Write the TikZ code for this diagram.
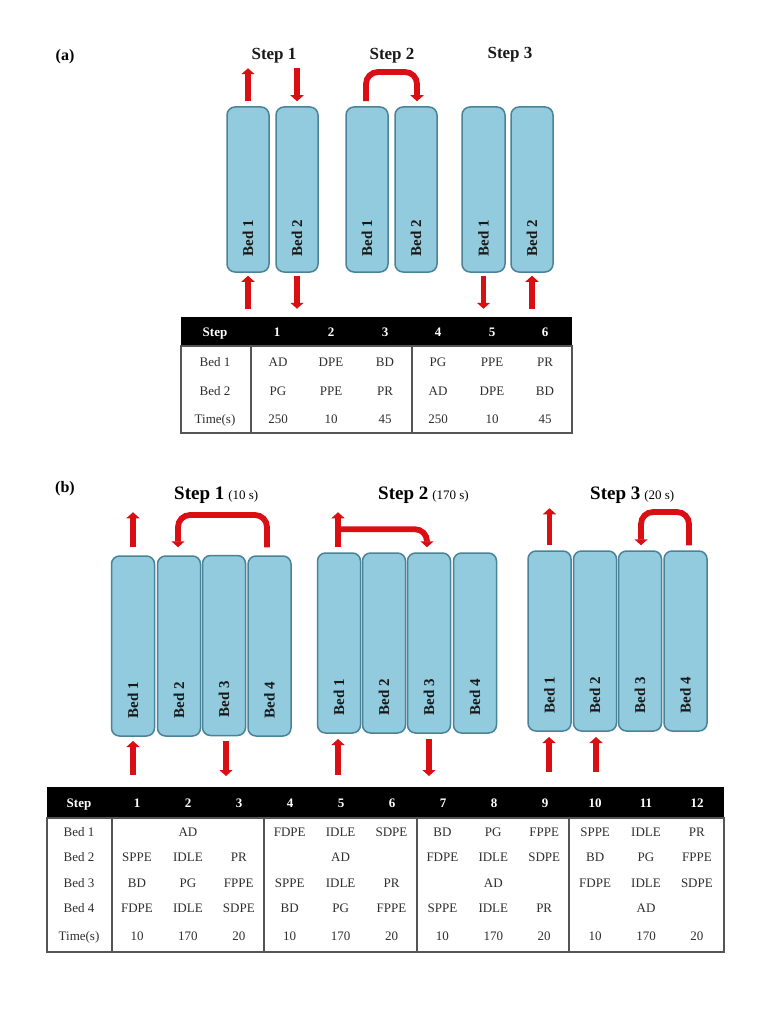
\documentclass[tikz,border=0pt]{standalone}
\usepackage{fontspec}
\setmainfont{Liberation Serif}
\usetikzlibrary{arrows.meta,calc}
\definecolor{bedfill}{HTML}{92CBDE}
\definecolor{bededge}{HTML}{4A8398}
\definecolor{flow}{HTML}{D90F14}
\definecolor{cell}{HTML}{2E2E2E}
\definecolor{rulegray}{HTML}{555555}
\tikzset{
  bedbox/.style={draw=bededge,line width=1.5pt,fill=bedfill,rounded corners=8pt,minimum width=42pt,inner sep=0pt},
  bedtext/.style={rotate=90,font=\bfseries\fontsize{15}{17}\selectfont,text=black!90,inner sep=0pt},
  flowline/.style={draw=flow,line width=5.8pt,-{Triangle[width=13pt,length=6pt]},rounded corners=12pt},
  head/.style={font=\bfseries\fontsize{17}{19}\selectfont,inner sep=0pt,text=black!90},
  panel/.style={font=\bfseries\fontsize{16}{18}\selectfont,inner sep=0pt},
  thead/.style={font=\bfseries\fontsize{13}{15}\selectfont,text=white,inner sep=0pt,text height=8.6pt,text depth=0pt},
  tcell/.style={font=\fontsize{13}{15}\selectfont,text=cell,inner sep=0pt,text height=8.6pt,text depth=0pt},
  rule/.style={draw=rulegray,line width=1.2pt}
}
\newcommand{\stephead}[2]{\fontsize{19}{21}\selectfont\bfseries Step #1\hspace{4pt}\fontsize{13}{15}\mdseries\selectfont #2}
\begin{document}
\begin{tikzpicture}[x=1pt,y=-1pt]
\useasboundingbox (0,0) rectangle (768,1024);
\fill[white] (0,0) rectangle (768,1024);
\node[panel] (pa) at (65,57) {(a)};
\node[panel] (pb) at (65,489) {(b)};
\node[head] (sa1) at (274,56) {Step 1};
\node[head] (sa2) at (392,56) {Step 2};
\node[head] (sa3) at (510,55) {Step 3};
% panel a beds
\foreach \n/\x/\w/\l in {aa/248/42/1,ab/297/42/2,ac/367/42/1,ad/416/42/2,ae/483.5/43/1,af/532/42/2}{
  \node[bedbox,minimum width=\w pt,minimum height=165pt] (\n) at (\x,189.5) {};
  \node[bedtext] (\n t) at (\x,238) {Bed \l};
}
\coordinate (aa1) at ($(aa.north)+(0,-5)$); \coordinate (aa2) at ($(aa.north)+(0,-38)$);
\coordinate (ab1) at ($(ab.north)+(0,-38)$); \coordinate (ab2) at ($(ab.north)+(0,-5)$);
\coordinate (aa3) at ($(aa.south)+(0,36)$); \coordinate (aa4) at ($(aa.south)+(0,3)$);
\coordinate (ab3) at ($(ab.south)+(0,3)$); \coordinate (ab4) at ($(ab.south)+(0,36)$);
\coordinate (ae3) at ($(ae.south)+(0,3)$); \coordinate (ae4) at ($(ae.south)+(0,36)$);
\coordinate (af3) at ($(af.south)+(0,36)$); \coordinate (af4) at ($(af.south)+(0,3)$);
\coordinate (ac1) at ($(ac.north)+(-1,-5)$); \coordinate (ad1) at ($(ad.north)+(1,-5)$);
\draw[flowline] (aa1) -- (aa2);
\draw[flowline] (ab1) -- (ab2);
\draw[flowline] (aa3) -- (aa4);
\draw[flowline] (ab3) -- (ab4);
\draw[flowline] (ae3) -- (ae4);
\draw[flowline] (af3) -- (af4);
\draw[flowline] (ac1) -- (ac1 |- 0,72) -- (ad1 |- 0,72) -- (ad1);
% table a
\fill[black] (181,317) rectangle (572,346);
\draw[rule] (181,346) rectangle (572,433);
\draw[rule] (251,346) -- (251,433);
\draw[rule] (412,346) -- (412,433);
\node[thead] (tah) at (215,332) {Step};
\foreach \t/\x in {1/277,2/331,3/385,4/438,5/492,6/545}{\node[thead] (tah\t) at (\x,332) {\t};}
\foreach \t/\y/\k in {Bed 1/362/a,Bed 2/391/b,Time(s)/419/c}{\node[tcell] (tar\k) at (215,\y) {\t};}
\foreach \t/\x/\y/\k in {AD/278/362/a,DPE/331/362/b,BD/385/362/c,PG/438/362/d,PPE/492/362/e,PR/545/362/f,
PG/278/391/g,PPE/331/391/h,PR/385/391/i,AD/438/391/j,DPE/492/391/k,BD/545/391/l,
250/278/419/m,10/331/419/n,45/385/419/o,250/438/419/p,10/492/419/q,45/545/419/r}{\node[tcell] (ta\k) at (\x,\y) {\t};}
% panel b
\node[anchor=west,inner sep=0pt] (sb1) at (174,495) {\stephead{1}{(10 s)}};
\node[anchor=west,inner sep=0pt] (sb2) at (378,495) {\stephead{2}{(170 s)}};
\node[anchor=west,inner sep=0pt] (sb3) at (590,495) {\stephead{3}{(20 s)}};
\foreach \n/\x/\y/\l in {ba/133/646/1,bb/179/646/2,bc/224/645.5/3,bd/269.5/646/4,
 ca/339/643/1,cb/384/643/2,cc/429/643/3,cd/475/643/4,
 da/549.5/641/1,db/595/641/2,dc/640/641/3,dd/685.5/641/4}{
  \node[bedbox,minimum width=43pt,minimum height=180pt] (\n) at (\x,\y) {};
  \node[bedtext] (\n t) at (\x,\y+54) {Bed \l};
}
\coordinate (ba1) at ($(ba.north)+(0,-8)$); \coordinate (ba2) at ($(ba.north)+(0,-43)$);
\coordinate (bd1) at ($(bd.north)+(-2.5,-8)$); \coordinate (bb1) at ($(bb.north)+(-1,-8)$);
\draw[flowline] (ba1) -- (ba2);
\draw[flowline] (bd1) -- (bd1 |- 0,515) -- (bb1 |- 0,515) -- (bb1);
\coordinate (ca1) at ($(ca.north)+(-1,-5)$); \coordinate (ca2) at ($(ca.north)+(-1,-40)$);
\coordinate (ca3) at ($(ca.north)+(-1,-23)$); \coordinate (cc1) at ($(cc.north)+(-2,-5)$);
\draw[flowline] (ca1) -- (ca2);
\draw[flowline] (ca3) -- (cc1 |- ca3) -- (cc1);
\coordinate (da1) at ($(da.north)+(0,-5)$); \coordinate (da2) at ($(da.north)+(0,-42)$);
\draw[flowline] (da1) -- (da2);
\coordinate (dd1) at ($(dd.north)+(3.5,-5)$); \coordinate (dc1) at ($(dc.north)+(1,-5)$);
\draw[flowline] (dd1) -- (dd1 |- 0,512) -- (dc1 |- 0,512) -- (dc1);
\foreach \b/\s/\e/\k in {133/775/741/a,226/741/776/b,338/775/739/c,429/739/776/d,549/772/737/e,596/772/737/f}{
  \coordinate (ar\k s) at (\b,\s); \coordinate (ar\k e) at (\b,\e);
  \draw[flowline] (ar\k s) -- (ar\k e);
}
% table b
\fill[black] (47,787) rectangle (724,818);
\draw[rule] (47,818) rectangle (724,952);
\foreach \x/\k in {112/a,264/b,417/c,569/d}{\draw[rule] (\x,818) -- (\x,952);}
\node[thead] (tbh) at (79,803) {Step};
\foreach \t/\x in {1/137,2/188,3/239,4/290,5/341,6/392,7/443,8/494,9/545,10/595,11/646,12/697}{\node[thead] (tbh\t) at (\x,803) {\t};}
\foreach \t/\y/\k in {Bed 1/832/a,Bed 2/857/b,Bed 3/883/c,Bed 4/908/d,Time(s)/936/e}{\node[tcell] (tbr\k) at (79,\y) {\t};}
\def\rowb#1#2{\foreach \t [count=\i] in {#2}{\pgfmathsetmacro{\xx}{137+(\i-1)*50.9}\node[tcell] (tb#1\i) at (\xx,\csname rowy#1\endcsname) {\t};}}
\expandafter\def\csname rowya\endcsname{832}
\expandafter\def\csname rowyb\endcsname{857}
\expandafter\def\csname rowyc\endcsname{883}
\expandafter\def\csname rowyd\endcsname{908}
\expandafter\def\csname rowye\endcsname{936}
\rowb{a}{{},AD,{},FDPE,IDLE,SDPE,BD,PG,FPPE,SPPE,IDLE,PR}
\rowb{b}{SPPE,IDLE,PR,{},AD,{},FDPE,IDLE,SDPE,BD,PG,FPPE}
\rowb{c}{BD,PG,FPPE,SPPE,IDLE,PR,{},AD,{},FDPE,IDLE,SDPE}
\rowb{d}{FDPE,IDLE,SDPE,BD,PG,FPPE,SPPE,IDLE,PR,{},AD,{}}
\rowb{e}{10,170,20,10,170,20,10,170,20,10,170,20}
\end{tikzpicture}
\end{document}
